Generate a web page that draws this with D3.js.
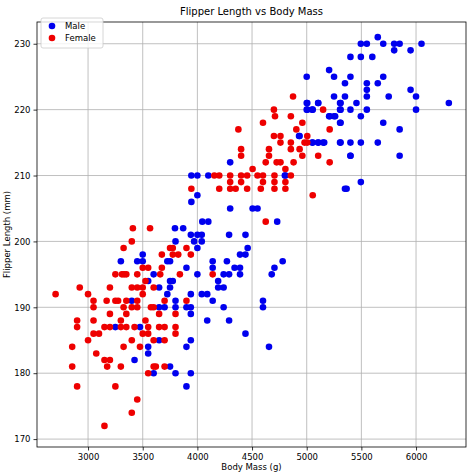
<!DOCTYPE html>
<html><head><meta charset="utf-8">
<script src="https://cdn.jsdelivr.net/npm/d3@7"></script>
<style>body{margin:0;background:#fff}svg{font-family:"DejaVu Sans",sans-serif}</style>
</head><body><svg id="c" width="474" height="475"></svg>
<script>
const title = "Flipper Length vs Body Mass";
const xLabel = "Body Mass (g)";
const yLabel = "Flipper Length (mm)";
const xTicks = [3000,3500,4000,4500,5000,5500,6000];
const yTicks = [170,180,190,200,210,220,230];
const seriesNames = ["Male","Female"];
const seriesColors = ["#0000ee","#ee0000"];
// [body mass g, flipper length mm]
const male = [
[3400,191],[3250,187],[3475,187],[3600,195],[3550,194],[3750,194],[3775,194],[3750,193],[3650,193],
[3725,192],[3800,191],[3940,192],[3650,190],[3700,190],[3800,190],[3900,190],[3940,190],[3940,189],
[3500,198],[3450,197],[3500,197],[3300,197],[3725,197],[3750,197],[3900,196],[4000,195],[3800,200],
[3940,201],[4000,201],[4040,201],[4290,201],[4440,201],[3970,200],[4040,200],[4000,199],[4390,198],
[4440,198],[4460,199],[4140,197],[4270,197],[4140,196],[4340,196],[4390,196],[4240,195],[4290,195],
[4390,195],[4190,194],[4190,193],[4240,193],[4040,192],[4090,192],[4140,191],[4240,190],[4090,188],
[4290,188],[4440,186],[3550,184],[3550,183],[3900,184],[3940,185],[3650,185],[3425,182],[3750,181],
[3600,180],[3800,180],[3940,180],[3900,178],
[5005,221],[5105,221],[5310,221],[5005,220],[5055,220],[5310,220],[5210,219],[5260,219],[5310,218],
[4935,216],[5055,215],[5105,215],[5160,215],[5310,215],[5400,213],[4300,212],[3945,210],[4000,210],
[4100,210],[4805,210],[4000,207],[3945,206],[5365,208],[4300,205],[4505,205],[4550,205],[4045,203],
[4100,203],[4730,203],[3795,202],[3870,202],[4780,197],[4705,196],[4680,195],[4600,191],[4600,190],
[4655,184],
[5650,231],[5495,230],[5550,230],[5700,230],[5800,230],[5850,230],[6050,230],[5800,229],[5950,229],
[5400,228],[5495,228],[5600,228],[5205,226],[5000,225],[5250,225],[5400,225],[5700,225],[5350,224],
[5550,224],[5650,224],[5550,223],[5950,223],[5250,222],[5350,222],[5550,222],[5750,222],[6000,222],
[5000,221],[5105,221],[5305,221],[5455,221],[6300,221],[5000,220],[5050,220],[5305,220],[5400,220],
[5550,220],[6000,220],[5205,219],[5250,219],[5495,219],[5305,218],[5700,218],[5850,217],[4930,216],
[5050,215],[5105,215],[5150,215],[5305,215],[5400,215],[5495,215],[5650,215],[5400,213],[5850,213],
[4800,210],[5495,209],[5350,208]
];
const female = [
[2703,192],[2924,193],[3000,192],[3050,191],[3050,190],[3170,191],[3250,191],[3275,191],[3350,191],
[3200,193],[3250,195],[3310,195],[3330,195],[3350,195],[3450,195],[3325,199],[3400,200],[3410,202],
[3567,202],[2900,188],[2900,187],[3050,188],[3000,185],[3050,186],[3100,186],[3150,187],[3200,187],
[3300,187],[3350,187],[3200,189],[3325,190],[3350,189],[3300,188],[3400,190],[3450,190],[3450,193],
[3500,193],[3400,193],[3500,192],[3450,191],[3525,194],[3500,196],[3550,196],[3600,193],[3675,196],
[3675,198],[3775,198],[3825,198],[3940,198],[3750,199],[3775,199],[3900,199],[3660,195],[3840,195],
[4140,195],[3575,190],[3600,190],[3700,191],[3900,191],[3650,189],[3800,189],[3425,187],[3550,187],
[3500,186],[3550,186],[3800,187],[3800,186],[3700,187],[3650,187],[3525,188],[3400,185],[3600,185],
[3700,185],[2855,184],[3325,184],[3475,184],[3075,183],[3150,182],[3200,182],[2855,181],[3175,181],
[3300,181],[3600,181],[3620,181],[3700,181],[3550,180],[2900,178],[3250,178],[3450,176],[3400,174],
[3150,172],
[4700,220],[4710,219],[4855,219],[4600,218],[4960,218],[4375,217],[4905,217],[4700,216],[4760,216],
[5005,216],[4760,215],[4855,215],[4980,215],[5005,215],[4400,214],[4655,214],[4855,214],[4935,214],
[5210,217],[4400,213],[4655,213],[4960,213],[5105,213],[4625,212],[4725,212],[4760,212],[4880,212],
[5210,212],[4505,211],[4805,211],[4155,210],[4200,210],[4300,210],[4400,210],[4455,210],[4550,210],
[4600,210],[4705,210],[4855,210],[3945,208],[4200,208],[4300,208],[4350,208],[4455,208],[4580,208],
[4705,208],[4805,208],[4300,209],[4400,209],[4600,209],[4705,209],[4805,209],[5055,207],[4625,203],
[4875,222],[5150,220]
];
const svg = d3.select("#c");
const m = {l:37, r:466, t:22, b:447};
const x = d3.scaleLinear().domain([2533,6457]).range([m.l,m.r]);
const y = d3.scaleLinear().domain([168.8,233.3]).range([m.b,m.t]);
svg.append("rect").attr("width",474).attr("height",475).attr("fill","#fff");
const g = svg.append("g");
g.selectAll(".gx").data(xTicks).join("line").attr("x1",d=>x(d)).attr("x2",d=>x(d)).attr("y1",m.t).attr("y2",m.b).attr("stroke","#b0b0b0").attr("stroke-width",0.8);
g.selectAll(".gy").data(yTicks).join("line").attr("y1",d=>y(d)).attr("y2",d=>y(d)).attr("x1",m.l).attr("x2",m.r).attr("stroke","#b0b0b0").attr("stroke-width",0.8);
const xa = svg.append("g").attr("transform",`translate(0,${m.b})`).call(d3.axisBottom(x).tickValues(xTicks).tickFormat(d3.format("d")).tickSize(3.5).tickPadding(3));
const ya = svg.append("g").attr("transform",`translate(${m.l},0)`).call(d3.axisLeft(y).tickValues(yTicks).tickFormat(d3.format("d")).tickSize(3.5).tickPadding(3));
[xa,ya].forEach(a=>{a.select(".domain").remove();a.selectAll("text").attr("font-size",8.5).attr("fill","#000").attr("font-family","DejaVu Sans");a.selectAll("line").attr("stroke","#000").attr("stroke-width",0.8);});
const series=[male,female];
series.forEach((s,i)=>{
  svg.append("g").selectAll("circle").data(s).join("circle").attr("cx",d=>x(d[0])).attr("cy",d=>y(d[1])).attr("r",3.3).attr("fill",seriesColors[i]);
});
svg.append("rect").attr("x",m.l).attr("y",m.t).attr("width",m.r-m.l).attr("height",m.b-m.t).attr("fill","none").attr("stroke","#000").attr("stroke-width",0.8);
svg.append("text").attr("x",(m.l+m.r)/2).attr("y",15).attr("text-anchor","middle").attr("font-size",10).text(title);
svg.append("text").attr("x",(m.l+m.r)/2).attr("y",470).attr("text-anchor","middle").attr("font-size",8.5).text(xLabel);
svg.append("text").attr("transform",`translate(10,${(m.t+m.b)/2}) rotate(-90)`).attr("text-anchor","middle").attr("font-size",8.5).text(yLabel);
const lg = svg.append("g");
lg.append("rect").attr("x",41).attr("y",18).attr("width",62).attr("height",30).attr("rx",2).attr("fill","#fff").attr("fill-opacity",0.8).attr("stroke","#ccc").attr("stroke-width",0.8);
seriesNames.forEach((n,i)=>{
  lg.append("circle").attr("cx",52).attr("cy",26+i*12).attr("r",3.3).attr("fill",seriesColors[i]);
  lg.append("text").attr("x",65).attr("y",29+i*12).attr("font-size",8.5).text(n);
});
</script></body></html>
